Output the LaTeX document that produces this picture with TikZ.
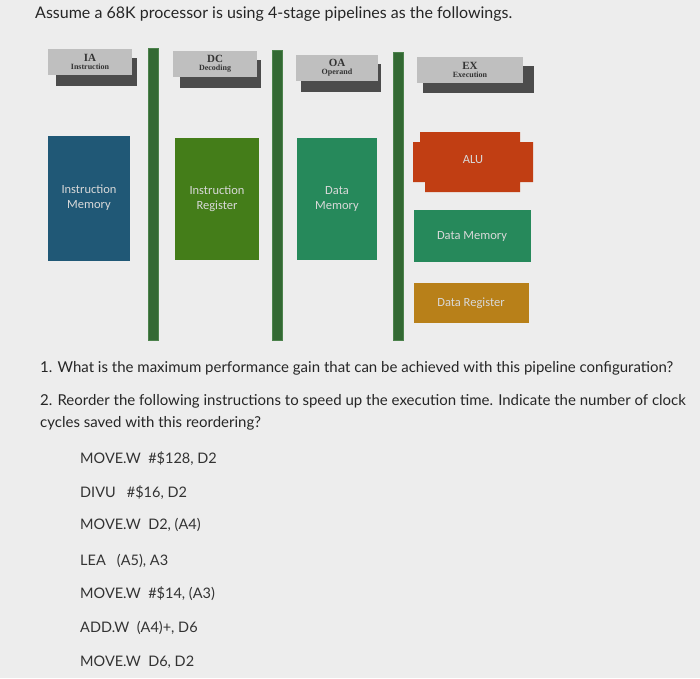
\documentclass[tikz,border=0pt]{standalone}
\usepackage{fontspec}
\setmainfont{Lato}
\newfontfamily\hdr{Liberation Serif}
\newfontfamily\blkfont{Carlito}
\begin{document}
\begin{tikzpicture}[x=1pt,y=-1pt,
  hd/.style={fill=black!25,minimum height=26pt,inner sep=0pt,align=center,font=\hdr\bfseries\fontsize{11}{10}\selectfont,text=black!80},
  shd/.style={fill=black!70},
  bar/.style={fill=green!35!black!60!gray,draw=green!30!black!70},
  blk/.style={inner sep=0pt,align=center,text=white!85!black,font=\blkfont\fontsize{12.5}{15}\selectfont},
  txt/.style={anchor=west,inner sep=0pt,font=\fontsize{15}{17}\selectfont,text=black!85},
  ins/.style={anchor=west,inner sep=0pt,font=\fontsize{14.5}{17}\selectfont,text=black!80}]
\fill[black!7] (0,0) rectangle (700,678);
\useasboundingbox (0,0) rectangle (700,678);
\node[txt,font=\fontsize{16}{18}\selectfont] (title) at (35,14) {Assume a 68K processor is using 4-stage pipelines as the followings.};
% headers with shadows
\fill[shd] (56,58) rectangle (137,86);
\node[hd,minimum width=84pt] (ia) at (90,62) {IA\\[-2pt]\fontsize{8}{8}\selectfont Instruction};
\fill[shd] (180,60) rectangle (261,88);
\node[hd,minimum width=84pt] (dc) at (215,64) {DC\\[-2pt]\fontsize{8}{8}\selectfont Decoding};
\fill[shd] (301,64) rectangle (381,92);
\node[hd,minimum width=82pt] (oa) at (337,68) {OA\\[-2pt]\fontsize{8}{8}\selectfont Operand};
\fill[shd] (423,66) rectangle (534,93);
\node[hd,minimum width=106pt] (ex) at (470,70) {EX\\[-2pt]\fontsize{8}{8}\selectfont Execution};
% bars
\draw[bar] (148,48) rectangle (158,340);
\draw[bar] (272,50) rectangle (282,340);
\draw[bar] (393,52) rectangle (403,340);
% blocks
\node[blk,fill=blue!35!cyan!45!black!75!gray,minimum width=82pt,minimum height=125pt] (im) at (89,198) {Instruction\\Memory};
\node[blk,fill=green!40!olive!70!black!80!gray,minimum width=84pt,minimum height=122pt] (ir) at (217,199) {Instruction\\Register};
\node[blk,fill=teal!70!green!70!black!85,minimum width=80pt,minimum height=122pt] (dm) at (337,199) {Data\\Memory};
\fill[red!50!orange!80!black!85!gray] (420,132) -- (520,132) -- (520,142) -- (533,142) -- (533,182) -- (520,182) -- (520,192) -- (425,192) -- (425,182) -- (413,182) -- (413,142) -- (420,142) -- cycle;
\node[blk] (alu) at (473,160) {ALU};
\node[blk,fill=teal!70!green!70!black!85,minimum width=117pt,minimum height=52pt] (dm2) at (472,236) {Data Memory};
\node[blk,fill=orange!55!olive!80!gray,minimum width=115pt,minimum height=40pt] (dr) at (471,303) {Data Register};
% questions
\node[txt] (q1) at (40,368) {1. What is the maximum performance gain that can be achieved with this pipeline configuration?};
\node[txt] (q2) at (40,401) {2. Reorder the following instructions to speed up the execution time. Indicate the number of clock};
\node[txt] (q3) at (40,423) {cycles saved with this reordering?};
\node[ins] (i1) at (80,459) {MOVE.W \ \#\$128, D2};
\node[ins] (i2) at (80,493) {DIVU \ \ \#\$16, D2};
\node[ins] (i3) at (80,525) {MOVE.W \ D2, (A4)};
\node[ins] (i4) at (80,561) {LEA \ \ (A5), A3};
\node[ins] (i5) at (80,594) {MOVE.W \ \#\$14, (A3)};
\node[ins] (i6) at (80,628) {ADD.W \ (A4)+, D6};
\node[ins] (i7) at (80,662) {MOVE.W \ D6, D2};
\end{tikzpicture}
\end{document}
